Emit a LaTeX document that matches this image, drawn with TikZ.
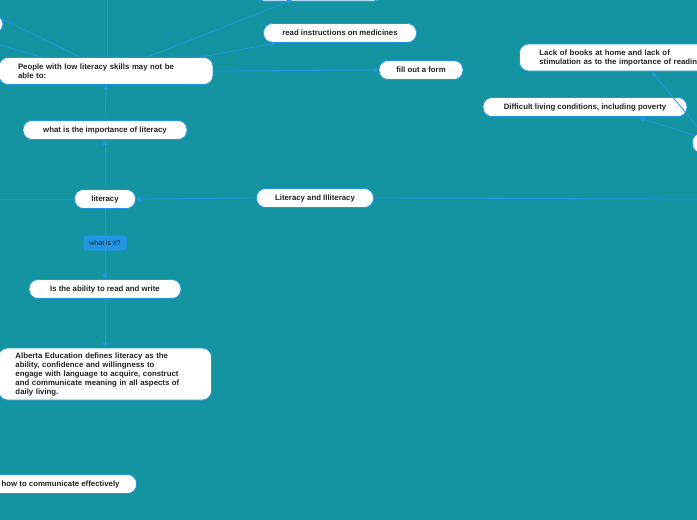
\documentclass[tikz,border=0pt]{standalone}
\usepackage{fontspec}
\setmainfont{Liberation Sans}
\usetikzlibrary{arrows.meta}
\definecolor{bg}{HTML}{1493A0}
\definecolor{ln}{HTML}{2196E3}
\definecolor{txt}{HTML}{222222}
\tikzset{
  box/.style={draw=ln,line width=0.8pt,fill=white,rounded corners=9pt,inner sep=0pt,font=\bfseries\fontsize{7.8}{9}\selectfont,text=txt},
  conn/.style={draw=ln,line width=0.8pt},
  arr/.style={conn,-{Triangle[length=5pt,width=5pt]}},
}
\begin{document}
\begin{tikzpicture}[x=1pt,y=-1pt]
\fill[bg] (0,0) rectangle (697,520);
\useasboundingbox (0,0) rectangle (697,520);
% nodes
\node[box,minimum width=128pt,minimum height=14pt] (top) at (319,-6) {};
\node[box,minimum width=20pt,minimum height=18pt] (lefttop) at (-7,24) {};
\node[box,minimum width=214pt,minimum height=27pt,align=left,text width=214pt] (people) at (106,71) {\hspace*{19pt}People with low literacy skills may not be\\\hspace*{19pt}able to:};
\node[box,minimum width=153pt,minimum height=19pt] (read) at (340,33) {read instructions on medicines};
\node[box,minimum width=84pt,minimum height=19pt] (form) at (421,70) {fill out a form};
\node[box,minimum width=164pt,minimum height=19pt] (imp) at (105,130) {what is the importance of literacy};
\node[box,minimum width=61pt,minimum height=19pt] (lit) at (105,199) {literacy};
\node[box,minimum width=117pt,minimum height=19pt] (li) at (315,198) {Literacy and Illiteracy};
\node[draw=none,fill=ln,rounded corners=2pt,minimum width=43pt,minimum height=15pt,inner sep=0pt,font=\fontsize{7}{8}\selectfont,text=txt] (q) at (105,243) {what is it?};
\node[box,minimum width=152pt,minimum height=19pt] (abil) at (105,289) {Is the ability to read and write};
\node[box,minimum width=213pt,minimum height=52pt,align=left,text width=213pt] (alb) at (105,374) {\hspace*{17pt}Alberta Education defines literacy as the\\\hspace*{17pt}ability, confidence and willingness to\\\hspace*{17pt}engage with language to acquire, construct\\\hspace*{17pt}and communicate meaning in all aspects of\\\hspace*{17pt}daily living.};
\node[box,minimum width=160pt,minimum height=19pt,anchor=east] (comm) at (137,484) {\hspace*{8pt}how to communicate effectively};
\node[box,minimum width=240pt,minimum height=27pt,anchor=west,align=left,text width=240pt] (lack) at (519,57.5) {\hspace*{20pt}Lack of books at home and lack of\\\hspace*{20pt}stimulation as to the importance of reading};
\node[box,minimum width=204pt,minimum height=19pt] (diff) at (585,107) {Difficult living conditions, including poverty};
\node[box,minimum width=30pt,minimum height=20pt,anchor=west] (rn) at (692,143) {};
\coordinate (e1) at (0,199);
\coordinate (e2) at (697,199);
\coordinate (e3) at (107,0);
\coordinate (e4) at (0,45);
\coordinate (e5) at (0,18);
% connectors
\draw[conn] (82,58) -- (e5);
\draw[conn] (45,58) -- (e4);
\draw[conn] (107,58) -- (e3);
\draw[arr] (145,58) -- (292,0);
\draw[arr] (195,58) -- (276,43);
\draw[arr] (people.east) -- (form.west);
\draw[arr] (imp.north) -- (people.south);
\draw[arr] (lit.north) -- (imp.south);
\draw[arr] (li.west) -- (lit.east);
\draw[conn] (lit.west) -- (e1);
\draw[conn] (li.east) -- (e2);
\draw[conn] (lit.south) -- (q.north);
\draw[arr] (q.south) -- (abil.north);
\draw[arr] (abil.south) -- (alb.north);
\draw[arr] (rn.north west) ++(6,-5) -- (652,72);
\draw[arr] (rn.west) ++(2,-8) -- (640,118);
\end{tikzpicture}
\end{document}
